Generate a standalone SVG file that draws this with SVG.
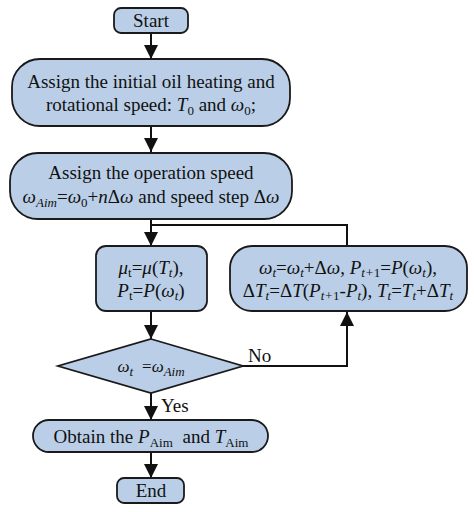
<svg xmlns="http://www.w3.org/2000/svg" width="474" height="512" viewBox="0 0 474 512">
<defs>
<style>
.n{fill:#bacfe7;stroke:#1a1a1a;stroke-width:1.8}
.t{font-family:"Liberation Serif","Times New Roman",serif;font-size:19px;fill:#111;text-anchor:middle}
.l{font-family:"Liberation Serif","Times New Roman",serif;font-size:19px;fill:#111}
.i{font-style:italic}
.s{font-size:13px}
.c{fill:none;stroke:#111;stroke-width:2}
</style>
<marker id="a" markerUnits="userSpaceOnUse" markerWidth="14" markerHeight="14" viewBox="0 0 14 14" refX="14" refY="7" orient="auto">
<path d="M0,0 L14,7 L0,14 Z" fill="#111"/>
</marker>
</defs>
<rect width="474" height="512" fill="#fff"/>
<g id="connectors">
<path class="c" d="M151,33 V59" marker-end="url(#a)"/>
<path class="c" d="M151,126 V152" marker-end="url(#a)"/>
<path class="c" d="M151,219 V246" marker-end="url(#a)"/>
<path class="c" d="M347,246 V225 H151"/>
<path class="c" d="M151,311 V339" marker-end="url(#a)"/>
<path class="c" d="M243,366 H347 V312" marker-end="url(#a)"/>
<path class="c" d="M151,393 V420" marker-end="url(#a)"/>
<path class="c" d="M151,452 V478" marker-end="url(#a)"/>
<text class="l" x="248" y="362">No</text>
<text class="l" x="161" y="412">Yes</text>
</g>
<g id="start">
<rect class="n" x="114" y="8" width="74" height="25" rx="7"/>
<text class="t" x="151" y="27">Start</text>
</g>
<g id="init">
<rect class="n" x="12" y="59" width="278" height="67" rx="28"/>
<text class="t" x="151" y="88">Assign the initial oil heating and</text>
<text class="t" x="151" y="111">rotational speed: <tspan class="i">T</tspan><tspan class="s" dy="4">0</tspan><tspan dy="-4"> and </tspan><tspan class="i">ω</tspan><tspan class="s" dy="4">0</tspan><tspan dy="-4">;</tspan></text>
</g>
<g id="operation">
<rect class="n" x="10" y="153" width="282" height="66" rx="28"/>
<text class="t" x="151" y="179">Assign the operation speed</text>
<text class="t" x="151" y="203"><tspan class="i">ω</tspan><tspan class="s i" dy="4">Aim</tspan><tspan dy="-4">=</tspan><tspan class="i">ω</tspan><tspan class="s" dy="4">0</tspan><tspan dy="-4">+</tspan><tspan class="i">n</tspan>Δ<tspan class="i">ω</tspan> and speed step Δ<tspan class="i">ω</tspan></text>
</g>
<g id="compute">
<rect class="n" x="96" y="246" width="111" height="65" rx="10"/>
<text class="t" x="151" y="274"><tspan class="i">μ</tspan><tspan class="s" dy="3">t</tspan><tspan dy="-3">=</tspan><tspan class="i">μ</tspan>(<tspan class="i">T</tspan><tspan class="s i" dy="3">t</tspan><tspan dy="-3">),</tspan></text>
<text class="t" x="151" y="297"><tspan class="i">P</tspan><tspan class="s" dy="3">t</tspan><tspan dy="-3">=</tspan><tspan class="i">P</tspan>(<tspan class="i">ω</tspan><tspan class="s i" dy="3">t</tspan><tspan dy="-3">)</tspan></text>
</g>
<g id="update">
<rect class="n" x="230" y="246" width="237" height="65" rx="22"/>
<text class="t" x="348" y="274"><tspan class="i">ω</tspan><tspan class="s i" dy="3">t</tspan><tspan dy="-3">=</tspan><tspan class="i">ω</tspan><tspan class="s i" dy="3">t</tspan><tspan dy="-3">+Δ</tspan><tspan class="i">ω</tspan>, <tspan class="i">P</tspan><tspan class="s i" dy="3">t+</tspan><tspan class="s">1</tspan><tspan dy="-3">=</tspan><tspan class="i">P</tspan>(<tspan class="i">ω</tspan><tspan class="s i" dy="3">t</tspan><tspan dy="-3">),</tspan></text>
<text class="t" x="348" y="297">Δ<tspan class="i">T</tspan><tspan class="s i" dy="3">t</tspan><tspan dy="-3">=Δ</tspan><tspan class="i">T</tspan>(<tspan class="i">P</tspan><tspan class="s i" dy="3">t+</tspan><tspan class="s">1</tspan><tspan dy="-3">-</tspan><tspan class="i">P</tspan><tspan class="s i" dy="3">t</tspan><tspan dy="-3">), </tspan><tspan class="i">T</tspan><tspan class="s i" dy="3">t</tspan><tspan dy="-3">=</tspan><tspan class="i">T</tspan><tspan class="s i" dy="3">t</tspan><tspan dy="-3">+Δ</tspan><tspan class="i">T</tspan><tspan class="s i" dy="3">t</tspan></text>
</g>
<g id="decision">
<path class="n" d="M151,339 L243,366 L151,393 L58,366 Z"/>
<text class="t" x="151" y="372" style="font-size:17px"><tspan class="i">ω</tspan><tspan class="s i" dy="4">t</tspan><tspan dx="9" dy="-4">=</tspan><tspan class="i">ω</tspan><tspan class="s i" dy="4">Aim</tspan></text>
</g>
<g id="obtain">
<rect class="n" x="33" y="420" width="235" height="32" rx="16"/>
<text class="t" x="151" y="443">Obtain the <tspan class="i">P</tspan><tspan class="s" dy="4">Aim</tspan><tspan dx="5" dy="-4"> and </tspan><tspan class="i">T</tspan><tspan class="s" dy="4">Aim</tspan></text>
</g>
<g id="end">
<rect class="n" x="117" y="478" width="67" height="25" rx="7"/>
<text class="t" x="151" y="497">End</text>
</g>
</svg>
